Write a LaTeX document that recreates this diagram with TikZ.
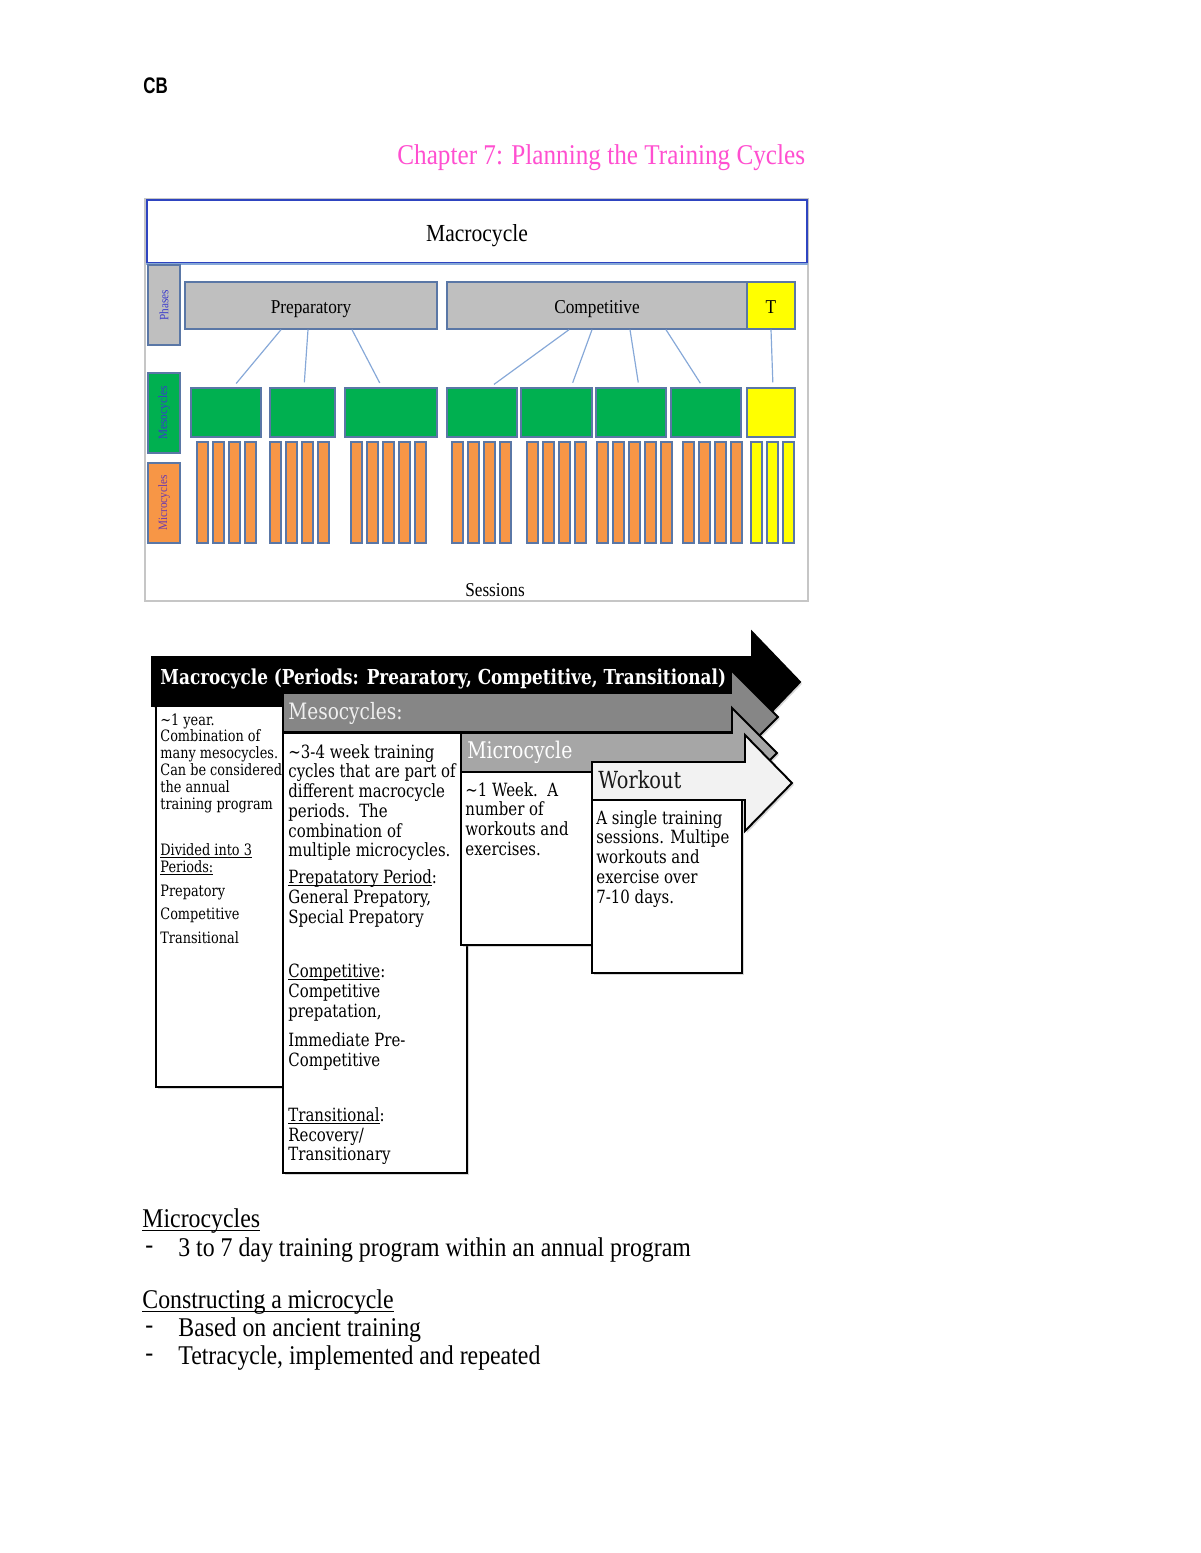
\documentclass[tikz,border=0pt]{standalone}
\usepackage{fontspec}
\setmainfont{Liberation Serif}[FakeStretch=0.88]
\newfontfamily\cbfont{Liberation Sans}[FakeStretch=0.75]
\newfontfamily\camfont{DejaVu Serif}[FakeStretch=0.82]
\usepackage{tikz}
\usetikzlibrary{positioning,calc,shadows}

\definecolor{phasegray}{HTML}{BFBFBF}
\definecolor{mesogreen}{HTML}{00B050}
\definecolor{microorange}{HTML}{F79646}
\definecolor{transyellow}{HTML}{FFFF00}
\definecolor{edgeblue}{HTML}{5A77A6}
\definecolor{linkblue}{HTML}{86A8D8}
\definecolor{macroblue}{HTML}{2E44C0}
\definecolor{labelblue}{HTML}{3A3ACC}
\definecolor{microviolet}{HTML}{6A3AB0}
\definecolor{titlepink}{HTML}{FF4FD0}
\definecolor{mesogray}{HTML}{868686}
\definecolor{microgray}{HTML}{A6A6A6}
\definecolor{workgray}{HTML}{F2F2F2}

\newdimen\pxu \pxu=0.51pt
% underline set just below the baseline
\newcommand\wul[1]{\setbox0\hbox{#1}\rlap{\rule[-0.14em]{\wd0}{0.06em}}\usebox0}
\tikzset{sz/.style 2 args={minimum width=#1\pxu, minimum height=#2\pxu}}

\begin{document}
\begin{tikzpicture}[x=0.51pt, y=-0.51pt,
	blk/.style={rectangle, inner sep=0pt, draw=edgeblue, line width=0.7pt},
	phase/.style={blk, fill=phasegray, text height=0.78em, text depth=0pt, font=\fontsize{10}{12}\selectfont},
	meso/.style={blk, fill=mesogreen, sz={70}{49}},
	micro/.style={blk, fill=microorange, sz={11}{101}},
	sidetag/.style={blk, rotate=90, sz={80}{32}, font=\fontsize{6.5}{7}\selectfont},
	linkline/.style={draw=linkblue, line width=0.6pt, shorten >=2.5pt},
	cyc/.style={draw=black, line width=1pt, drop shadow={shadow xshift=1pt, shadow yshift=-1pt, opacity=0.3}},
	cbox/.style={cyc, fill=white, rectangle, inner sep=0pt},
	bandtext/.style={anchor=west, inner sep=0pt, font=\camfont\fontsize{11.5}{12}\selectfont},
	boxtext/.style={anchor=north west, inner sep=0pt, align=left, font=\camfont\fontsize{9.3}{10.05}\selectfont},
	pagetext/.style={anchor=west, inner sep=0pt, font=\fontsize{13.8}{16}\selectfont}]
	\path[use as bounding box, fill=white] (0,0) rectangle (1200,1553);

	% page header
	\path 	(143,86) 	node 	(cbmark) [pagetext, font=\cbfont\bfseries\fontsize{11.5}{13}\selectfont] {CB}
	        (397,158) 	node 	(chaptitle) [pagetext, text=titlepink, font=\fontsize{14.6}{16}\selectfont] {Chapter 7: Planning the Training Cycles};

	% macrocycle chart
	\path 	(476.5,400) node 	(diagframe) [rectangle, draw=gray!45, line width=0.8pt, sz={663}{402}] {}
	        (477,231.5) node 	(macrotop) [rectangle, draw=macroblue, line width=1pt, fill=white, sz={660}{63}, text height=1em, text depth=0pt, font=\fontsize{12.5}{14}\selectfont] {Macrocycle};
	\draw [linkblue, line width=1pt] (macrotop.south west) -- (macrotop.south east);
	\path 	(164,305) 	node 	(phasetag) [sidetag, fill=phasegray, text=labelblue] {Phases}
	        (164,413) 	node 	(mesotag) [sidetag, fill=mesogreen, text=labelblue] {Mesocycles}
	        (164,503) 	node 	(microtag) [sidetag, fill=microorange, text=microviolet] {Microcycles};
	\path 	(311,305.5) node 	(prep) [phase, sz={252}{47}] {Preparatory}
	        (597,305.5) node 	(comp) [phase, sz={300}{47}] {Competitive}
	        (771,305.5) node 	(trans) [phase, fill=transyellow, sz={48}{47}] {T};
	\path 	(226,412.5) node 	(m1) [meso] {}
	        (302.5,412.5) node 	(m2) [meso, sz={65}{49}] {}
	        (391,412.5) node 	(m3) [meso, sz={92}{49}] {}
	        (482,412.5) node 	(m4) [meso] {}
	        (556.5,412.5) node 	(m5) [meso, sz={71}{49}] {}
	        (631,412.5) node 	(m6) [meso] {}
	        (706,412.5) node 	(m7) [meso] {}
	        (771,412.5) node 	(mt) [meso, fill=transyellow, sz={48}{49}] {};
	\foreach \gx/\n [count=\g] in {197/4,270/4,351/5,452/4,527/4,597/5,683/4}
		\foreach \i in {1,...,\n}
			\path (\gx+5.5+16*\i-16,492.5) node (mic\g-\i) [micro] {};
	\foreach \i in {1,2,3}
		\path (751+5.5+16*\i-16,492.5) node (mict-\i) [micro, fill=transyellow] {};
	\foreach \src/\sx/\dst/\dx in {prep/281/m1/233, prep/308/m2/304, prep/352/m3/382, comp/569/m4/490, comp/592/m5/571, comp/630/m6/639, comp/666/m7/703, trans/771/mt/773}
		\draw [linkline] (\src.south -| \sx,0) -- (\dx,0 |- \dst.north);
	\path 	(495,590) 	node 	(sessions) [font=\fontsize{10}{12}\selectfont] {Sessions};

	% arrow chart
	\draw [cyc, fill=black] (152,657) -- (752,657) -- (752,632) -- (800,682) -- (752,732) -- (752,706) -- (152,706) -- cycle;
	\path 	(160,679) 	node 	(macrohead) [bandtext, text=white, font=\camfont\bfseries\fontsize{10.5}{12}\selectfont] {Macrocycle (Periods: Prearatory, Competitive, Transitional)};
	\path 	(219.5,896.5) node 	(macrobox) [cbox, sz={127}{381}] {};
	\path 	([shift={(5,8)}]macrobox.north west) node (macrotext) [boxtext, font=\camfont\fontsize{8}{8.6}\selectfont] {\textasciitilde1 year.\\ Combination of\\ many mesocycles.\\ Can be considered\\ the annual\\ training program\\[14.9pt] \wul{Divided into 3}\\ \wul{Periods:}\\[3.6pt] Prepatory\\[3.4pt] Competitive\\[3.4pt] Transitional};

	\draw [cyc, fill=mesogray] (283,693) -- (731,693) -- (731,670) -- (778,717) -- (731,764) -- (731,732) -- (283,732) -- cycle;
	\path 	(288,713) 	node 	(mesohead) [bandtext, text=gray!12] {Mesocycles:};
	\path 	(375,953) 	node 	(mesobox) [cbox, sz={184}{440}] {};
	\path 	([shift={(6,12)}]mesobox.north west) node (mesotext) [boxtext] {\textasciitilde3-4 week training\\ cycles that are part of\\ different macrocycle\\ periods.\ \ The\\ combination of\\ multiple microcycles.\\[3.7pt] \wul{Prepatatory Period}:\\ General Prepatory,\\ Special Prepatory\\[17.8pt] \wul{Competitive}:\\ Competitive\\ prepatation,\\[4.8pt] Immediate Pre-\\ Competitive\\[18.2pt] \wul{Transitional}:\\ Recovery/\\ Transitionary};

	\draw [cyc, fill=microgray] (461,733) -- (732,733) -- (732,708) -- (777,753) -- (732,798) -- (732,772) -- (461,772) -- cycle;
	\path 	(467,752) 	node 	(microhead) [bandtext, text=white, font=\camfont\fontsize{11.7}{12}\selectfont] {Microcycle};
	\path 	(526.5,858.5) node 	(microbox) [cbox, sz={131}{173}] {};
	\path 	([shift={(5,11)}]microbox.north west) node (microtext) [boxtext] {\textasciitilde1 Week.\ \ A\\ number of\\ workouts and\\ exercises.};

	\draw [cyc, fill=workgray] (592,762) -- (745,762) -- (745,735) -- (792,783) -- (745,831) -- (745,800) -- (592,800) -- cycle;
	\path 	(598,780) 	node 	(workhead) [bandtext, text=black!90, font=\camfont\fontsize{12}{12}\selectfont] {Workout};
	\path 	(667,886.5) node 	(workbox) [cbox, sz={150}{173}] {};
	\path 	([shift={(5,11)}]workbox.north west) node (worktext) [boxtext] {A single training\\ sessions. Multipe\\ workouts and\\ exercise over\\ 7-10 days.};

	% notes
	\path 	(142,1221) 	node 	(mctitle) [pagetext] {\wul{Microcycles}}
	        (145,1250) 	node 	(dash1) [pagetext] {-}
	        (178,1250) 	node 	(item1) [pagetext] {3 to 7 day training program within an annual program}
	        (142,1302) 	node 	(cmtitle) [pagetext] {\wul{Constructing a microcycle}}
	        (145,1330) 	node 	(dash2) [pagetext] {-}
	        (178,1330) 	node 	(item2) [pagetext] {Based on ancient training}
	        (145,1358) 	node 	(dash3) [pagetext] {-}
	        (178,1358) 	node 	(item3) [pagetext] {Tetracycle, implemented and repeated};
\end{tikzpicture}
\end{document}
